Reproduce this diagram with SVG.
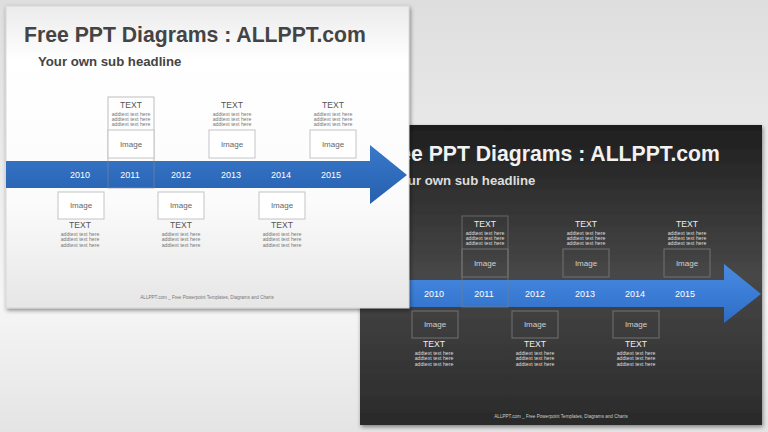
<svg xmlns="http://www.w3.org/2000/svg" width="768" height="432" viewBox="0 0 768 432">
<defs>
  <linearGradient id="pageBg" x1="0" y1="0" x2="0" y2="1">
    <stop offset="0" stop-color="#dedede"/>
    <stop offset="0.7" stop-color="#f6f6f6"/>
    <stop offset="1" stop-color="#e4e4e4"/>
  </linearGradient>
  <linearGradient id="lightBg" x1="0" y1="0" x2="0" y2="1">
    <stop offset="0" stop-color="#ebebeb"/>
    <stop offset="0.18" stop-color="#ffffff"/>
    <stop offset="0.65" stop-color="#fbfbfb"/>
    <stop offset="1" stop-color="#e6e6e6"/>
  </linearGradient>
  <linearGradient id="darkBg" x1="0" y1="0" x2="0" y2="1">
    <stop offset="0" stop-color="#1e1e1e"/>
    <stop offset="0.5" stop-color="#474747"/>
    <stop offset="1" stop-color="#2a2a2a"/>
  </linearGradient>
  <linearGradient id="blueL" x1="0" y1="0" x2="0" y2="1">
    <stop offset="0" stop-color="#3a78c8"/>
    <stop offset="0.5" stop-color="#2f6cbd"/>
    <stop offset="1" stop-color="#2760ad"/>
  </linearGradient>
  <linearGradient id="blueD" x1="0" y1="0" x2="0" y2="1">
    <stop offset="0" stop-color="#4a8ae0"/>
    <stop offset="0.5" stop-color="#3b7dd6"/>
    <stop offset="1" stop-color="#2f6cc2"/>
  </linearGradient>
  <filter id="shadow" x="-5%" y="-5%" width="112%" height="115%">
    <feDropShadow dx="1" dy="2" stdDeviation="2" flood-color="#000" flood-opacity="0.45"/>
  </filter>
</defs>
<style>
  text { font-family: "Liberation Sans", Arial, sans-serif; text-anchor: middle; }
  .title { font-size: 21.2px; font-weight: bold; text-anchor: start; }
  .sub { font-size: 13.2px; font-weight: bold; text-anchor: start; }
  .year { font-size: 9px; fill: #ffffff; }
  .hd { font-size: 8.6px; }
  .ln { font-size: 5.2px; }
  .img { font-size: 8px; }
  .foot { font-size: 4.6px; }
  #slideLight .title, #slideLight .sub { fill: #444444; }
  #slideLight .hd { fill: #555555; }
  #slideLight .ln { fill: #777777; }
  #slideLight .img { fill: #666666; }
  #slideLight .foot { fill: #777777; }
  #slideLight .box { fill: #ffffff; stroke: #c4c4c4; stroke-width: 1; }
  #slideLight .col { fill: none; stroke: #8a8a8a; stroke-opacity: 0.55; stroke-width: 1; }
  #slideDark .title { fill: #f2f2f2; }
  #slideDark .sub { fill: #dddddd; }
  #slideDark .hd { fill: #eeeeee; }
  #slideDark .ln { fill: #dddddd; }
  #slideDark .img { fill: #d0d0d0; }
  #slideDark .foot { fill: #cccccc; }
  #slideDark .box { fill: none; stroke: #727272; stroke-width: 1; }
  #slideDark .col { fill: none; stroke: #7a7a7a; stroke-opacity: 0.7; stroke-width: 1; }
</style>

<rect x="0" y="0" width="768" height="432" fill="url(#pageBg)"/>

<!-- Dark slide (behind) -->
<g id="slideDark" transform="translate(354,119)">
  <rect x="6" y="6" width="402" height="300" fill="url(#darkBg)" filter="url(#shadow)"/>
  <text class="title" x="24" y="42">Free PPT Diagrams : ALLPPT.com</text>
  <text class="sub" x="38" y="65.5">Your own sub headline</text>
  <g id="arrowDark">
    <path d="M6,161 L370,161 L370,145 L407,175 L370,204 L370,188 L6,188 Z" fill="url(#blueD)"/>
  </g>
  <g id="d2011top">
    <rect class="col" x="108" y="97" width="46" height="91"/>
    <text class="hd" x="131" y="108.3">TEXT</text>
    <text class="ln" x="131" y="115.5">addtext text here</text>
    <text class="ln" x="131" y="120.8">addtext text here</text>
    <text class="ln" x="131" y="126.1">addtext text here</text>
    <rect class="box" x="108" y="130" width="46" height="28"/>
    <text class="img" x="131" y="146.8">Image</text>
  </g>
  <g id="d2013top">
    <text class="hd" x="232" y="108.3">TEXT</text>
    <text class="ln" x="232" y="115.5">addtext text here</text>
    <text class="ln" x="232" y="120.8">addtext text here</text>
    <text class="ln" x="232" y="126.1">addtext text here</text>
    <rect class="box" x="209" y="130" width="46" height="28"/>
    <text class="img" x="232" y="146.8">Image</text>
  </g>
  <g id="d2015top">
    <text class="hd" x="333" y="108.3">TEXT</text>
    <text class="ln" x="333" y="115.5">addtext text here</text>
    <text class="ln" x="333" y="120.8">addtext text here</text>
    <text class="ln" x="333" y="126.1">addtext text here</text>
    <rect class="box" x="310" y="130" width="46" height="28"/>
    <text class="img" x="333" y="146.8">Image</text>
  </g>
  <g id="dYears">
    <text class="year" x="80" y="177.5">2010</text>
    <text class="year" x="130" y="177.5">2011</text>
    <text class="year" x="181" y="177.5">2012</text>
    <text class="year" x="231" y="177.5">2013</text>
    <text class="year" x="281" y="177.5">2014</text>
    <text class="year" x="331" y="177.5">2015</text>
  </g>
  <g id="d2010bot">
    <rect class="box" x="58" y="192" width="46" height="27"/>
    <text class="img" x="81" y="208.2">Image</text>
    <text class="hd" x="80" y="228.3">TEXT</text>
    <text class="ln" x="80" y="235.5">addtext text here</text>
    <text class="ln" x="80" y="241.3">addtext text here</text>
    <text class="ln" x="80" y="247.1">addtext text here</text>
  </g>
  <g id="d2012bot">
    <rect class="box" x="158" y="192" width="46" height="27"/>
    <text class="img" x="181" y="208.2">Image</text>
    <text class="hd" x="181" y="228.3">TEXT</text>
    <text class="ln" x="181" y="235.5">addtext text here</text>
    <text class="ln" x="181" y="241.3">addtext text here</text>
    <text class="ln" x="181" y="247.1">addtext text here</text>
  </g>
  <g id="d2014bot">
    <rect class="box" x="259" y="192" width="46" height="27"/>
    <text class="img" x="282" y="208.2">Image</text>
    <text class="hd" x="282" y="228.3">TEXT</text>
    <text class="ln" x="282" y="235.5">addtext text here</text>
    <text class="ln" x="282" y="241.3">addtext text here</text>
    <text class="ln" x="282" y="247.1">addtext text here</text>
  </g>
  <text class="foot" x="207" y="298.5">ALLPPT.com _ Free Powerpoint Templates, Diagrams and Charts</text>
</g>

<!-- Light slide (front) -->
<g id="slideLight">
  <rect x="6" y="6" width="403" height="302" fill="url(#lightBg)" stroke="#d2d2d2" stroke-width="0.8" filter="url(#shadow)"/>
  <text class="title" x="24" y="42">Free PPT Diagrams : ALLPPT.com</text>
  <text class="sub" x="38" y="65.5">Your own sub headline</text>
  <g id="arrowLight">
    <path d="M6,161 L370,161 L370,145 L407,175 L370,204 L370,188 L6,188 Z" fill="url(#blueL)"/>
  </g>
  <g id="l2011top">
    <rect class="col" x="108" y="97" width="46" height="91"/>
    <text class="hd" x="131" y="108.3">TEXT</text>
    <text class="ln" x="131" y="115.5">addtext text here</text>
    <text class="ln" x="131" y="120.8">addtext text here</text>
    <text class="ln" x="131" y="126.1">addtext text here</text>
    <rect class="box" x="108" y="130" width="46" height="28"/>
    <text class="img" x="131" y="146.8">Image</text>
  </g>
  <g id="l2013top">
    <text class="hd" x="232" y="108.3">TEXT</text>
    <text class="ln" x="232" y="115.5">addtext text here</text>
    <text class="ln" x="232" y="120.8">addtext text here</text>
    <text class="ln" x="232" y="126.1">addtext text here</text>
    <rect class="box" x="209" y="130" width="46" height="28"/>
    <text class="img" x="232" y="146.8">Image</text>
  </g>
  <g id="l2015top">
    <text class="hd" x="333" y="108.3">TEXT</text>
    <text class="ln" x="333" y="115.5">addtext text here</text>
    <text class="ln" x="333" y="120.8">addtext text here</text>
    <text class="ln" x="333" y="126.1">addtext text here</text>
    <rect class="box" x="310" y="130" width="46" height="28"/>
    <text class="img" x="333" y="146.8">Image</text>
  </g>
  <g id="lYears">
    <text class="year" x="80" y="177.5">2010</text>
    <text class="year" x="130" y="177.5">2011</text>
    <text class="year" x="181" y="177.5">2012</text>
    <text class="year" x="231" y="177.5">2013</text>
    <text class="year" x="281" y="177.5">2014</text>
    <text class="year" x="331" y="177.5">2015</text>
  </g>
  <g id="l2010bot">
    <rect class="box" x="58" y="192" width="46" height="27"/>
    <text class="img" x="81" y="208.2">Image</text>
    <text class="hd" x="80" y="228.3">TEXT</text>
    <text class="ln" x="80" y="235.5">addtext text here</text>
    <text class="ln" x="80" y="241.3">addtext text here</text>
    <text class="ln" x="80" y="247.1">addtext text here</text>
  </g>
  <g id="l2012bot">
    <rect class="box" x="158" y="192" width="46" height="27"/>
    <text class="img" x="181" y="208.2">Image</text>
    <text class="hd" x="181" y="228.3">TEXT</text>
    <text class="ln" x="181" y="235.5">addtext text here</text>
    <text class="ln" x="181" y="241.3">addtext text here</text>
    <text class="ln" x="181" y="247.1">addtext text here</text>
  </g>
  <g id="l2014bot">
    <rect class="box" x="259" y="192" width="46" height="27"/>
    <text class="img" x="282" y="208.2">Image</text>
    <text class="hd" x="282" y="228.3">TEXT</text>
    <text class="ln" x="282" y="235.5">addtext text here</text>
    <text class="ln" x="282" y="241.3">addtext text here</text>
    <text class="ln" x="282" y="247.1">addtext text here</text>
  </g>
  <text class="foot" x="207" y="298.5">ALLPPT.com _ Free Powerpoint Templates, Diagrams and Charts</text>
</g>
<g id="connectors"/>
</svg>
